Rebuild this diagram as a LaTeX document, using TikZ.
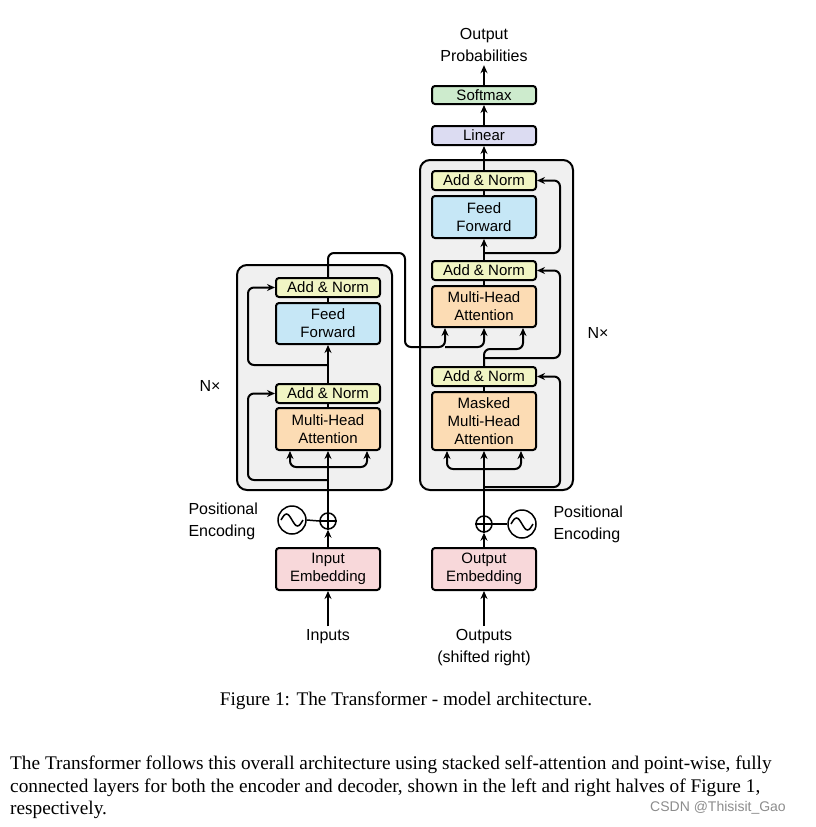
\documentclass[tikz,border=0pt]{standalone}
\usepackage{fontspec}
\setmainfont{Liberation Sans}
\newfontfamily\tnr{Liberation Serif}
\usetikzlibrary{arrows.meta,calc}
\definecolor{cAN}{HTML}{F1F5C4}
\definecolor{cFF}{HTML}{C6E7F6}
\definecolor{cMH}{HTML}{FCDCB4}
\definecolor{cEm}{HTML}{F8D8DA}
\definecolor{cLi}{HTML}{DCDCF2}
\definecolor{cSo}{HTML}{CDEBCD}
\definecolor{cBl}{HTML}{F0F0F0}
\begin{document}
\begin{tikzpicture}[x=1pt,y=-1pt,
  box/.style={draw,line width=2,rounded corners=3,minimum width=104,inner sep=0,align=center,font=\fontsize{15}{18}\selectfont},
  an/.style={box,fill=cAN,minimum height=19},
  blk/.style={draw,line width=2,fill=cBl,rounded corners=10},
  ln/.style={line width=2,rounded corners=6},
  arr/.style={ln,-{Stealth[length=8,width=7]}},
  lbl/.style={font=\fontsize{16}{22}\selectfont,align=center},
  para/.style={anchor=base west,inner sep=0,font=\tnr\fontsize{19.3}{20}\selectfont}]
\useasboundingbox (0,0) rectangle (815,827);
% blocks
\draw[blk] (237,265) rectangle (392,490);
\draw[blk] (420,160) rectangle (573,490);
% encoder
\node[an] (eAN2) at (328,287.5) {Add \& Norm};
\node[box,fill=cFF,minimum height=41] (eFF) at (328,323.5) {Feed\\Forward};
\node[an] (eAN1) at (328,393.5) {Add \& Norm};
\node[box,fill=cMH,minimum height=42] (eMHA) at (328,429) {Multi-Head\\Attention};
\node[box,fill=cEm,minimum height=42] (eEmb) at (328,569) {Input\\Embedding};
\node[circle,draw,line width=1.5,minimum size=16,inner sep=0] (ePlus) at (328,521) {};
\node[circle,draw,line width=1.5,minimum size=28,inner sep=0] (eSin) at (292,520) {};
\node[lbl] (inp) at (328,637) {Inputs};
\node[lbl,anchor=west,align=left] (ePE) at (185,521) {Positional\\Encoding};
\node[lbl] (eN) at (210,386) {N×};
% decoder
\node[an] (dAN3) at (484,180.5) {Add \& Norm};
\node[box,fill=cFF,minimum height=42] (dFF) at (484,217) {Feed\\Forward};
\node[an] (dAN2) at (484,270.5) {Add \& Norm};
\node[box,fill=cMH,minimum height=41] (dMHA) at (484,306.5) {Multi-Head\\Attention};
\node[an] (dAN1) at (484,376.5) {Add \& Norm};
\node[box,fill=cMH,minimum height=58] (dMM) at (484,421) {Masked\\Multi-Head\\Attention};
\node[box,fill=cEm,minimum height=42] (dEmb) at (484,569) {Output\\Embedding};
\node[circle,draw,line width=1.5,minimum size=16,inner sep=0] (dPlus) at (484,524) {};
\node[circle,draw,line width=1.5,minimum size=28,inner sep=0] (dSin) at (522,524) {};
\node[an,fill=cLi] (lin) at (484,135.5) {Linear};
\node[an,fill=cSo,minimum height=18] (soft) at (484,95) {Softmax};
\node[lbl] (outp) at (484,45) {Output\\Probabilities};
\node[lbl] (outs) at (484,648) {Outputs\\(shifted right)};
\node[lbl,anchor=west,align=left] (dPE) at (550,524) {Positional\\Encoding};
\node[lbl] (dN) at (598,333) {N×};
% plus and sine glyphs
\foreach \p in {ePlus,dPlus}{\draw[line width=1.5] (\p.north)--(\p.south) (\p.west)--(\p.east);}
\foreach \s in {eSin,dSin}{\draw[line width=1.5] ($(\s.center)+(-11,0)$) sin ++(5.5,-6) cos ++(5.5,6) sin ++(5.5,6) cos ++(5.5,-6);}
% encoder connectors
\draw[arr] (inp.north) -- (eEmb.south);
\draw[arr] (eEmb.north) -- (ePlus.south);
\draw[line width=1.5] (eSin.east) -- (ePlus.west);
\draw[arr] (ePlus.north) -- (eMHA.south);
\coordinate (eB) at (328,467);
\draw[arr] (eB) -| ($(eMHA.south)+(-38,0)$);
\draw[arr] (eB) -| ($(eMHA.south)+(39,0)$);
\coordinate (eR1) at (328,480);
\draw[arr] (eR1) -- ++(-80,0) |- (eAN1.west);
\draw[ln] (eMHA.north) -- (eAN1.south);
\draw[arr] (eAN1.north) -- (eFF.south);
\coordinate (eR2) at (328,365);
\draw[arr] (eR2) -- ++(-80,0) |- (eAN2.west);
\draw[ln] (eFF.north) -- (eAN2.south);
\coordinate (eC) at (405,253);
\coordinate (dK) at (445,347);
\draw[arr] (eAN2.north) |- (eC) |- (dK) -- ($(dMHA.south)+(-39,0)$);
\draw[arr] (dK) -| (dMHA.south);
% decoder connectors
\draw[arr] (outs.north) -- (dEmb.south);
\draw[arr] (dEmb.north) -- (dPlus.south);
\draw[line width=1.5] (dSin.west) -- (dPlus.east);
\draw[arr] (dPlus.north) -- (dMM.south);
\coordinate (dB) at (484,469);
\draw[arr] (dB) -| ($(dMM.south)+(-37,0)$);
\draw[arr] (dB) -| ($(dMM.south)+(37,0)$);
\coordinate (dR1) at (484,487);
\draw[arr] (dR1) -- ++(76,0) |- (dAN1.east);
\draw[ln] (dMM.north) -- (dAN1.south);
\coordinate (dJ) at (484,349);
\draw[arr] (dAN1.north) -- (dJ) -| ($(dMHA.south)+(39,0)$);
\coordinate (dR2) at (484,358);
\draw[arr] (dR2) -- ++(76,0) |- (dAN2.east);
\draw[ln] (dMHA.north) -- (dAN2.south);
\draw[arr] (dAN2.north) -- (dFF.south);
\coordinate (dR3) at (484,253);
\draw[arr] (dR3) -- ++(76,0) |- (dAN3.east);
\draw[ln] (dFF.north) -- (dAN3.south);
\draw[arr] (dAN3.north) -- (lin.south);
\draw[arr] (lin.north) -- (soft.south);
\draw[arr] (soft.north) -- (outp.south);
% caption and text
\node[para,anchor=base] (cap) at (406,705) {Figure 1: The Transformer - model architecture.};
\node[para] (p1) at (10,769) {The Transformer follows this overall architecture using stacked self-attention and point-wise, fully};
\node[para] (p2) at (10,792) {connected layers for both the encoder and decoder, shown in the left and right halves of Figure 1,};
\node[para] (p3) at (10,814) {respectively.};
\node[font=\fontsize{14}{16}\selectfont,text=black!45] (wm) at (718,808) {CSDN @Thisisit\_Gao};
\end{tikzpicture}
\end{document}
